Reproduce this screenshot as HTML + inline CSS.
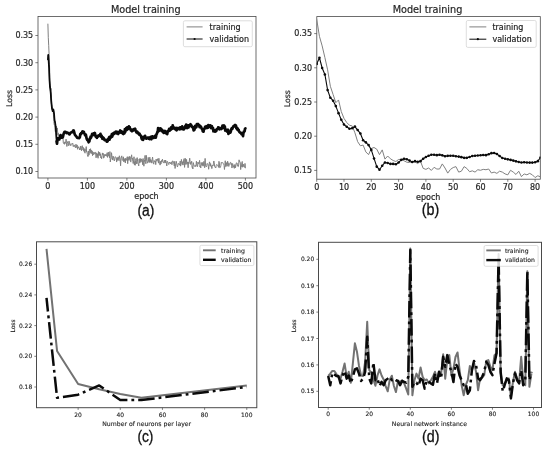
<!DOCTYPE html>
<html lang="en"><head><meta charset="utf-8"><title>Model training figure</title>
<style>html,body{margin:0;padding:0;background:#fff;}svg{display:block;filter:blur(0.3px);}</style></head>
<body>
<svg width="550" height="449" viewBox="0 0 550 449">
<rect width="550" height="449" fill="#fff"/>
<rect x="38.00" y="16.50" width="218.00" height="161.50" fill="#fff" stroke="#4a4a4a" stroke-width="0.8"/>
<clipPath id="ca"><rect x="38.0" y="16.5" width="218.0" height="161.5"/></clipPath>
<g clip-path="url(#ca)" fill="none" stroke-linejoin="round" stroke-linecap="round">
<path d="M47.90,24.08 L48.30,37.68 L48.69,45.29 L49.09,54.54 L49.48,64.33 L49.88,77.39 L50.27,83.92 L50.66,90.44 L51.06,88.27 L51.45,97.52 L51.85,102.96 L52.24,106.22 L52.64,108.40 L53.03,108.94 L53.43,114.38 L53.83,121.45 L54.22,124.72 L54.61,124.17 L55.01,129.61 L55.41,131.79 L55.80,126.89 L56.20,126.08 L56.59,127.44 L56.98,131.79 L57.38,127.98 L57.77,135.32 L58.17,132.88 L58.56,135.05 L58.96,136.41 L59.35,137.23 L59.75,135.60 L60.14,135.60 L60.54,136.68 L60.94,137.77 L61.33,138.04 L61.73,137.50 L62.12,137.50 L62.52,138.86 L62.91,136.96 L63.30,142.67 L63.70,143.48 L64.09,142.40 L64.49,144.30 L64.88,141.85 L65.28,143.21 L65.67,143.21 L66.07,139.13 L66.47,142.40 L66.86,146.48 L67.25,143.48 L67.65,142.02 L68.05,141.30 L68.44,145.65 L68.84,144.92 L69.23,141.30 L69.62,142.75 L70.02,145.36 L70.41,144.63 L70.81,145.65 L71.20,143.76 L71.60,144.20 L72.00,143.47 L72.39,143.76 L72.78,143.18 L73.18,146.37 L73.58,145.65 L73.97,146.66 L74.36,144.92 L74.76,145.65 L75.16,147.10 L75.55,147.83 L75.94,144.20 L76.34,145.65 L76.73,147.54 L77.13,144.92 L77.53,149.28 L77.92,147.10 L78.31,147.83 L78.71,146.66 L79.11,147.83 L79.50,150.00 L79.89,148.55 L80.29,149.57 L80.69,145.98 L81.08,148.49 L81.47,150.75 L81.87,146.68 L82.27,145.66 L82.66,148.44 L83.06,150.08 L83.45,147.53 L83.84,151.25 L84.24,148.62 L84.63,152.40 L85.03,153.19 L85.42,149.58 L85.82,150.30 L86.22,146.62 L86.61,152.13 L87.00,151.54 L87.40,154.55 L87.80,156.49 L88.19,156.42 L88.59,151.04 L88.98,155.17 L89.38,149.65 L89.77,149.05 L90.16,153.35 L90.56,148.71 L90.95,152.33 L91.35,150.25 L91.75,153.68 L92.14,150.89 L92.53,155.67 L92.93,151.95 L93.33,154.72 L93.72,154.04 L94.12,152.29 L94.51,153.53 L94.91,154.25 L95.30,152.41 L95.69,152.34 L96.09,157.82 L96.48,153.18 L96.88,153.02 L97.28,156.62 L97.67,153.96 L98.06,158.25 L98.46,151.52 L98.86,155.67 L99.25,155.32 L99.65,152.23 L100.04,155.55 L100.44,153.78 L100.83,157.85 L101.22,156.72 L101.62,158.77 L102.02,155.91 L102.41,152.92 L102.81,154.93 L103.20,153.36 L103.59,158.07 L103.99,157.76 L104.38,156.78 L104.78,154.28 L105.18,154.84 L105.57,155.79 L105.97,154.27 L106.36,156.21 L106.75,155.93 L107.15,152.72 L107.55,157.39 L107.94,155.55 L108.34,152.12 L108.73,155.90 L109.12,154.50 L109.52,157.79 L109.91,151.59 L110.31,161.97 L110.70,159.32 L111.10,159.20 L111.50,152.73 L111.89,155.92 L112.28,157.50 L112.68,160.07 L113.07,156.12 L113.47,156.81 L113.87,158.87 L114.26,160.90 L114.66,160.03 L115.05,156.89 L115.44,156.73 L115.84,157.39 L116.24,158.02 L116.63,162.06 L117.03,157.69 L117.42,160.41 L117.81,157.86 L118.21,156.90 L118.60,159.75 L119.00,160.66 L119.40,155.79 L119.79,157.43 L120.19,159.91 L120.58,165.76 L120.97,158.60 L121.37,157.00 L121.77,155.86 L122.16,160.32 L122.56,160.30 L122.95,159.88 L123.34,156.80 L123.74,161.79 L124.13,159.26 L124.53,161.31 L124.93,158.45 L125.32,162.98 L125.72,158.31 L126.11,160.51 L126.50,159.91 L126.90,158.14 L127.30,156.69 L127.69,163.70 L128.09,157.16 L128.48,158.30 L128.88,160.44 L129.27,156.34 L129.66,159.37 L130.06,156.72 L130.46,161.39 L130.85,162.12 L131.25,157.06 L131.64,154.81 L132.03,158.61 L132.43,158.04 L132.82,161.44 L133.22,163.57 L133.62,160.94 L134.01,156.77 L134.41,165.05 L134.80,161.76 L135.19,165.29 L135.59,160.40 L135.99,158.58 L136.38,163.82 L136.78,161.83 L137.17,157.64 L137.56,161.16 L137.96,164.03 L138.35,164.20 L138.75,165.89 L139.15,159.04 L139.54,162.73 L139.94,158.31 L140.33,158.73 L140.72,162.45 L141.12,162.10 L141.52,158.88 L141.91,160.39 L142.31,160.08 L142.70,164.74 L143.09,158.49 L143.49,162.81 L143.88,166.20 L144.28,162.13 L144.68,159.56 L145.07,155.43 L145.47,161.46 L145.86,163.77 L146.25,155.30 L146.65,160.08 L147.05,161.09 L147.44,163.06 L147.84,162.96 L148.23,157.38 L148.62,161.66 L149.02,162.32 L149.41,162.25 L149.81,157.16 L150.21,162.44 L150.60,159.46 L151.00,160.35 L151.39,160.41 L151.78,163.15 L152.18,159.39 L152.58,157.06 L152.97,161.13 L153.37,163.25 L153.76,164.16 L154.16,160.53 L154.55,161.67 L154.94,161.26 L155.34,160.97 L155.74,164.61 L156.13,159.09 L156.53,160.43 L156.92,161.18 L157.31,160.43 L157.71,158.73 L158.10,160.88 L158.50,163.15 L158.90,158.27 L159.29,162.24 L159.69,163.01 L160.08,165.11 L160.47,161.33 L160.87,163.97 L161.27,162.73 L161.66,160.41 L162.06,161.49 L162.45,159.14 L162.84,160.93 L163.24,162.72 L163.63,162.60 L164.03,163.09 L164.43,160.32 L164.82,161.90 L165.22,163.02 L165.61,160.00 L166.00,161.88 L166.40,163.32 L166.80,165.93 L167.19,161.22 L167.59,161.76 L167.98,162.27 L168.38,163.51 L168.77,164.53 L169.16,163.09 L169.56,162.02 L169.96,162.95 L170.35,163.04 L170.75,163.88 L171.14,161.95 L171.53,162.25 L171.93,164.71 L172.33,161.06 L172.72,161.03 L173.12,161.02 L173.51,163.38 L173.91,163.58 L174.30,165.99 L174.69,161.36 L175.09,168.48 L175.49,164.26 L175.88,164.18 L176.28,161.30 L176.67,163.44 L177.06,165.85 L177.46,167.03 L177.86,165.37 L178.25,163.32 L178.65,163.43 L179.04,164.02 L179.44,165.19 L179.83,164.00 L180.23,161.02 L180.62,166.14 L181.02,163.34 L181.41,159.43 L181.81,162.01 L182.20,164.46 L182.59,161.71 L182.99,165.14 L183.39,163.26 L183.78,159.45 L184.18,158.59 L184.57,167.39 L184.97,161.47 L185.36,158.39 L185.76,164.47 L186.15,162.48 L186.55,159.40 L186.94,164.27 L187.34,161.93 L187.73,163.16 L188.12,167.74 L188.52,162.26 L188.92,163.63 L189.31,160.99 L189.71,158.22 L190.10,161.75 L190.50,164.40 L190.89,162.48 L191.29,163.16 L191.68,161.23 L192.08,167.34 L192.47,166.75 L192.87,168.98 L193.26,162.57 L193.66,164.18 L194.05,165.78 L194.45,166.06 L194.84,165.77 L195.24,166.72 L195.63,165.31 L196.03,165.81 L196.42,161.28 L196.82,163.97 L197.21,166.85 L197.61,166.35 L198.00,162.06 L198.40,163.71 L198.79,163.91 L199.19,162.68 L199.58,160.38 L199.98,167.06 L200.37,165.72 L200.77,167.97 L201.16,162.43 L201.56,164.69 L201.95,165.52 L202.34,165.85 L202.74,162.40 L203.14,164.56 L203.53,165.62 L203.93,161.36 L204.32,167.11 L204.72,167.76 L205.11,158.42 L205.51,165.79 L205.90,166.33 L206.30,166.89 L206.69,165.56 L207.09,163.42 L207.48,163.61 L207.88,164.23 L208.27,166.28 L208.67,169.25 L209.06,164.91 L209.46,161.88 L209.85,162.98 L210.25,166.01 L210.64,163.64 L211.04,166.54 L211.43,165.74 L211.83,168.62 L212.22,166.37 L212.62,165.26 L213.01,166.01 L213.41,163.72 L213.80,160.99 L214.20,162.36 L214.59,166.35 L214.99,167.39 L215.38,167.20 L215.78,167.99 L216.17,165.52 L216.57,164.57 L216.96,165.15 L217.36,165.13 L217.75,165.21 L218.15,165.91 L218.54,167.38 L218.94,161.32 L219.33,162.96 L219.73,167.72 L220.12,167.69 L220.52,166.88 L220.91,165.34 L221.31,162.32 L221.70,162.89 L222.10,162.74 L222.49,162.67 L222.89,162.60 L223.28,163.48 L223.68,164.15 L224.07,165.53 L224.47,169.48 L224.86,165.50 L225.26,160.75 L225.65,166.46 L226.05,166.65 L226.44,162.60 L226.84,164.87 L227.23,166.22 L227.62,161.21 L228.02,163.47 L228.42,163.17 L228.81,166.43 L229.21,163.86 L229.60,164.17 L230.00,163.22 L230.39,162.33 L230.79,162.41 L231.18,164.77 L231.58,163.53 L231.97,168.04 L232.37,163.69 L232.76,163.61 L233.16,166.26 L233.55,167.23 L233.95,165.50 L234.34,168.35 L234.74,164.57 L235.13,164.71 L235.53,167.77 L235.92,165.36 L236.32,162.89 L236.71,162.92 L237.11,163.07 L237.50,165.94 L237.90,166.42 L238.29,166.56 L238.69,164.15 L239.08,159.84 L239.48,162.16 L239.87,161.72 L240.27,162.30 L240.66,169.55 L241.06,166.09 L241.45,166.66 L241.85,162.54 L242.24,161.47 L242.64,167.23 L243.03,165.51 L243.43,164.24 L243.82,166.80 L244.22,167.14 L244.61,167.26 L245.01,163.43 L245.40,167.83" stroke="#808080" stroke-width="1.0"/>
<path d="M47.90,59.65 L48.30,54.70 L48.69,62.86 L49.09,67.98 L49.48,80.43 L49.88,86.47 L50.27,88.87 L50.66,93.16 L51.06,98.77 L51.45,104.04 L51.85,107.85 L52.24,109.59 L52.64,111.22 L53.03,110.74 L53.43,109.43 L53.83,112.20 L54.22,114.92 L54.61,120.36 L55.01,122.00 L55.41,124.17 L55.80,127.98 L56.20,134.78 L56.59,141.31 L56.98,143.76 L57.38,140.60 L57.77,137.99 L58.17,138.42 L58.56,139.13 L58.96,139.13 L59.35,139.40 L59.75,137.99 L60.14,135.92 L60.54,135.05 L60.94,135.49 L61.33,136.52 L61.73,137.66 L62.12,136.96 L62.52,137.39 L62.91,136.96 L63.30,135.05 L63.70,133.64 L64.09,132.60 L64.49,131.90 L64.88,131.90 L65.28,132.17 L65.67,131.90 L66.07,132.33 L66.47,133.03 L66.86,132.74 L67.25,132.60 L67.65,132.60 L68.05,133.03 L68.44,133.32 L68.84,133.76 L69.23,134.34 L69.62,134.34 L70.02,133.61 L70.41,132.89 L70.81,132.60 L71.20,132.45 L71.60,132.31 L72.00,132.02 L72.39,132.16 L72.78,131.44 L73.18,130.57 L73.58,130.42 L73.97,131.29 L74.36,132.89 L74.76,134.48 L75.16,135.06 L75.55,135.50 L75.94,135.93 L76.34,136.51 L76.73,137.09 L77.13,137.67 L77.53,137.96 L77.92,137.82 L78.31,137.96 L78.71,138.11 L79.11,138.11 L79.50,137.82 L79.89,136.95 L80.29,134.05 L80.69,134.53 L81.08,133.15 L81.47,133.42 L81.87,133.09 L82.27,131.62 L82.66,131.34 L83.06,132.01 L83.45,132.03 L83.84,131.84 L84.24,132.94 L84.63,133.86 L85.03,135.25 L85.42,135.58 L85.82,134.44 L86.22,136.52 L86.61,138.44 L87.00,139.42 L87.40,140.27 L87.80,139.71 L88.19,140.21 L88.59,142.32 L88.98,141.15 L89.38,141.27 L89.77,138.66 L90.16,138.90 L90.56,136.67 L90.95,137.70 L91.35,136.68 L91.75,135.30 L92.14,133.94 L92.53,133.97 L92.93,135.14 L93.33,133.52 L93.72,133.26 L94.12,133.57 L94.51,134.41 L94.91,132.99 L95.30,135.51 L95.69,136.56 L96.09,135.93 L96.48,137.03 L96.88,137.87 L97.28,137.00 L97.67,136.79 L98.06,136.43 L98.46,135.44 L98.86,135.57 L99.25,135.89 L99.65,135.20 L100.04,134.88 L100.44,133.87 L100.83,135.60 L101.22,136.86 L101.62,135.80 L102.02,137.65 L102.41,138.79 L102.81,137.38 L103.20,138.74 L103.59,137.93 L103.99,139.06 L104.38,139.81 L104.78,140.15 L105.18,139.75 L105.57,139.78 L105.97,140.50 L106.36,140.26 L106.75,141.59 L107.15,140.27 L107.55,141.53 L107.94,139.82 L108.34,138.73 L108.73,138.07 L109.12,137.21 L109.52,139.74 L109.91,137.41 L110.31,136.58 L110.70,136.30 L111.10,137.49 L111.50,135.85 L111.89,134.11 L112.28,136.56 L112.68,134.37 L113.07,133.34 L113.47,134.44 L113.87,132.85 L114.26,133.82 L114.66,133.12 L115.05,132.73 L115.44,131.98 L115.84,132.36 L116.24,131.58 L116.63,133.36 L117.03,132.79 L117.42,131.97 L117.81,132.45 L118.21,134.01 L118.60,132.02 L119.00,132.75 L119.40,131.73 L119.79,131.54 L120.19,130.48 L120.58,131.18 L120.97,132.63 L121.37,132.75 L121.77,131.51 L122.16,132.96 L122.56,132.34 L122.95,133.69 L123.34,134.08 L123.74,131.82 L124.13,132.81 L124.53,133.24 L124.93,129.00 L125.32,131.80 L125.72,128.92 L126.11,128.11 L126.50,128.54 L126.90,129.87 L127.30,127.25 L127.69,129.13 L128.09,128.78 L128.48,127.66 L128.88,126.40 L129.27,127.10 L129.66,127.18 L130.06,128.80 L130.46,129.09 L130.85,130.46 L131.25,130.27 L131.64,130.00 L132.03,131.23 L132.43,130.16 L132.82,130.67 L133.22,130.30 L133.62,129.35 L134.01,129.18 L134.41,128.89 L134.80,129.64 L135.19,128.68 L135.59,130.78 L135.99,131.18 L136.38,132.29 L136.78,131.76 L137.17,131.58 L137.56,133.21 L137.96,133.00 L138.35,132.73 L138.75,133.86 L139.15,134.60 L139.54,133.69 L139.94,134.85 L140.33,135.31 L140.72,135.43 L141.12,136.24 L141.52,138.33 L141.91,139.28 L142.31,138.55 L142.70,138.65 L143.09,139.92 L143.49,136.90 L143.88,137.73 L144.28,136.84 L144.68,138.24 L145.07,135.90 L145.47,137.68 L145.86,137.40 L146.25,138.67 L146.65,137.73 L147.05,137.93 L147.44,138.03 L147.84,137.72 L148.23,138.49 L148.62,137.59 L149.02,138.75 L149.41,139.11 L149.81,138.16 L150.21,137.50 L150.60,136.87 L151.00,137.14 L151.39,139.29 L151.78,137.33 L152.18,136.30 L152.58,137.46 L152.97,137.90 L153.37,137.13 L153.76,137.77 L154.16,136.72 L154.55,137.23 L154.94,135.95 L155.34,136.66 L155.74,137.67 L156.13,135.95 L156.53,134.09 L156.92,133.81 L157.31,132.11 L157.71,132.17 L158.10,128.21 L158.50,129.51 L158.90,130.85 L159.29,130.54 L159.69,129.19 L160.08,128.34 L160.47,129.08 L160.87,128.59 L161.27,130.36 L161.66,131.16 L162.06,129.81 L162.45,130.75 L162.84,131.79 L163.24,130.94 L163.63,132.99 L164.03,132.62 L164.43,131.46 L164.82,130.86 L165.22,132.55 L165.61,131.19 L166.00,133.28 L166.40,132.56 L166.80,133.10 L167.19,134.13 L167.59,132.00 L167.98,130.88 L168.38,131.30 L168.77,130.70 L169.16,128.90 L169.56,130.67 L169.96,130.36 L170.35,129.41 L170.75,129.69 L171.14,127.30 L171.53,128.01 L171.93,128.85 L172.33,128.45 L172.72,125.24 L173.12,128.17 L173.51,128.44 L173.91,127.65 L174.30,127.50 L174.69,128.00 L175.09,129.12 L175.49,129.48 L175.88,128.09 L176.28,128.79 L176.67,130.31 L177.06,127.96 L177.46,128.16 L177.86,128.91 L178.25,128.79 L178.65,128.22 L179.04,128.88 L179.44,129.32 L179.83,127.73 L180.23,129.12 L180.62,127.39 L181.02,128.86 L181.41,127.80 L181.81,127.93 L182.20,126.37 L182.59,128.95 L182.99,129.36 L183.39,128.80 L183.78,129.32 L184.18,128.79 L184.57,127.63 L184.97,127.05 L185.36,126.00 L185.76,127.81 L186.15,124.60 L186.55,124.89 L186.94,126.52 L187.34,128.06 L187.73,125.86 L188.12,125.51 L188.52,127.50 L188.92,125.35 L189.31,125.51 L189.71,125.94 L190.10,124.63 L190.50,124.23 L190.89,125.45 L191.29,125.18 L191.68,126.48 L192.08,127.12 L192.47,126.89 L192.87,127.03 L193.26,128.50 L193.66,130.47 L194.05,128.42 L194.45,129.80 L194.84,127.77 L195.24,125.80 L195.63,126.84 L196.03,127.34 L196.42,127.05 L196.82,124.23 L197.21,124.97 L197.61,124.39 L198.00,123.96 L198.40,124.72 L198.79,124.86 L199.19,125.32 L199.58,127.09 L199.98,126.45 L200.37,125.96 L200.77,126.81 L201.16,127.08 L201.56,128.31 L201.95,128.82 L202.34,129.04 L202.74,131.27 L203.14,131.07 L203.53,131.69 L203.93,128.92 L204.32,129.21 L204.72,128.29 L205.11,126.84 L205.51,126.72 L205.90,127.19 L206.30,126.22 L206.69,128.02 L207.09,126.26 L207.48,126.39 L207.88,127.78 L208.27,125.08 L208.67,126.72 L209.06,125.43 L209.46,126.52 L209.85,125.42 L210.25,125.27 L210.64,127.27 L211.04,128.01 L211.43,126.92 L211.83,126.20 L212.22,127.62 L212.62,128.35 L213.01,127.92 L213.41,131.28 L213.80,129.98 L214.20,131.13 L214.59,130.20 L214.99,131.62 L215.38,131.59 L215.78,130.53 L216.17,131.11 L216.57,129.45 L216.96,129.63 L217.36,128.97 L217.75,128.87 L218.15,127.25 L218.54,128.27 L218.94,127.86 L219.33,128.03 L219.73,129.28 L220.12,128.21 L220.52,128.53 L220.91,128.70 L221.31,129.04 L221.70,128.67 L222.10,127.22 L222.49,125.61 L222.89,127.84 L223.28,126.25 L223.68,126.64 L224.07,125.43 L224.47,126.39 L224.86,126.51 L225.26,130.52 L225.65,129.27 L226.05,130.27 L226.44,130.16 L226.84,131.36 L227.23,131.63 L227.62,130.61 L228.02,129.68 L228.42,133.93 L228.81,131.87 L229.21,131.46 L229.60,131.86 L230.00,132.30 L230.39,132.53 L230.79,131.51 L231.18,129.40 L231.58,128.44 L231.97,128.63 L232.37,128.79 L232.76,127.32 L233.16,127.05 L233.55,125.98 L233.95,125.95 L234.34,126.20 L234.74,125.10 L235.13,126.24 L235.53,125.16 L235.92,125.50 L236.32,128.22 L236.71,127.48 L237.11,129.37 L237.50,128.23 L237.90,129.04 L238.29,130.49 L238.69,129.82 L239.08,131.46 L239.48,132.03 L239.87,132.37 L240.27,132.39 L240.66,132.94 L241.06,132.92 L241.45,133.99 L241.85,133.18 L242.24,133.35 L242.64,135.07 L243.03,136.15 L243.43,133.09 L243.82,131.55 L244.22,131.50 L244.61,131.29 L245.01,128.78 L245.40,128.34" stroke="#0a0a0a" stroke-width="1.0"/>
<path d="M47.90,59.65 L48.30,54.70 L48.69,62.86 L49.09,67.98 L49.48,80.43 L49.88,86.47 L50.27,88.87 L50.66,93.16 L51.06,98.77 L51.45,104.04 L51.85,107.85 L52.24,109.59 L52.64,111.22 L53.03,110.74 L53.43,109.43 L53.83,112.20 L54.22,114.92 L54.61,120.36 L55.01,122.00 L55.41,124.17 L55.80,127.98 L56.20,134.78 L56.59,141.31 L56.98,143.76" stroke="#0a0a0a" stroke-width="1.6"/>
<path d="M56.59,141.31 L56.98,143.76 L57.38,140.60 L57.77,137.99 L58.17,138.42 L58.56,139.13 L58.96,139.13 L59.35,139.40 L59.75,137.99 L60.14,135.92 L60.54,135.05 L60.94,135.49 L61.33,136.52 L61.73,137.66 L62.12,136.96 L62.52,137.39 L62.91,136.96 L63.30,135.05 L63.70,133.64 L64.09,132.60 L64.49,131.90 L64.88,131.90 L65.28,132.17 L65.67,131.90 L66.07,132.33 L66.47,133.03 L66.86,132.74 L67.25,132.60 L67.65,132.60 L68.05,133.03 L68.44,133.32 L68.84,133.76 L69.23,134.34 L69.62,134.34 L70.02,133.61 L70.41,132.89 L70.81,132.60 L71.20,132.45 L71.60,132.31 L72.00,132.02 L72.39,132.16 L72.78,131.44 L73.18,130.57 L73.58,130.42 L73.97,131.29 L74.36,132.89 L74.76,134.48 L75.16,135.06 L75.55,135.50 L75.94,135.93 L76.34,136.51 L76.73,137.09 L77.13,137.67 L77.53,137.96 L77.92,137.82 L78.31,137.96 L78.71,138.11 L79.11,138.11 L79.50,137.82 L79.89,136.95 L80.29,134.05 L80.69,134.53 L81.08,133.15 L81.47,133.42 L81.87,133.09 L82.27,131.62 L82.66,131.34 L83.06,132.01 L83.45,132.03 L83.84,131.84 L84.24,132.94 L84.63,133.86 L85.03,135.25 L85.42,135.58 L85.82,134.44 L86.22,136.52 L86.61,138.44 L87.00,139.42 L87.40,140.27 L87.80,139.71 L88.19,140.21 L88.59,142.32 L88.98,141.15 L89.38,141.27 L89.77,138.66 L90.16,138.90 L90.56,136.67 L90.95,137.70 L91.35,136.68 L91.75,135.30 L92.14,133.94 L92.53,133.97 L92.93,135.14 L93.33,133.52 L93.72,133.26 L94.12,133.57 L94.51,134.41 L94.91,132.99 L95.30,135.51 L95.69,136.56 L96.09,135.93 L96.48,137.03 L96.88,137.87 L97.28,137.00 L97.67,136.79 L98.06,136.43 L98.46,135.44 L98.86,135.57 L99.25,135.89 L99.65,135.20 L100.04,134.88 L100.44,133.87 L100.83,135.60 L101.22,136.86 L101.62,135.80 L102.02,137.65 L102.41,138.79 L102.81,137.38 L103.20,138.74 L103.59,137.93 L103.99,139.06 L104.38,139.81 L104.78,140.15 L105.18,139.75 L105.57,139.78 L105.97,140.50 L106.36,140.26 L106.75,141.59 L107.15,140.27 L107.55,141.53 L107.94,139.82 L108.34,138.73 L108.73,138.07 L109.12,137.21 L109.52,139.74 L109.91,137.41 L110.31,136.58 L110.70,136.30 L111.10,137.49 L111.50,135.85 L111.89,134.11 L112.28,136.56 L112.68,134.37 L113.07,133.34 L113.47,134.44 L113.87,132.85 L114.26,133.82 L114.66,133.12 L115.05,132.73 L115.44,131.98 L115.84,132.36 L116.24,131.58 L116.63,133.36 L117.03,132.79 L117.42,131.97 L117.81,132.45 L118.21,134.01 L118.60,132.02 L119.00,132.75 L119.40,131.73 L119.79,131.54 L120.19,130.48 L120.58,131.18 L120.97,132.63 L121.37,132.75 L121.77,131.51 L122.16,132.96 L122.56,132.34 L122.95,133.69 L123.34,134.08 L123.74,131.82 L124.13,132.81 L124.53,133.24 L124.93,129.00 L125.32,131.80 L125.72,128.92 L126.11,128.11 L126.50,128.54 L126.90,129.87 L127.30,127.25 L127.69,129.13 L128.09,128.78 L128.48,127.66 L128.88,126.40 L129.27,127.10 L129.66,127.18 L130.06,128.80 L130.46,129.09 L130.85,130.46 L131.25,130.27 L131.64,130.00 L132.03,131.23 L132.43,130.16 L132.82,130.67 L133.22,130.30 L133.62,129.35 L134.01,129.18 L134.41,128.89 L134.80,129.64 L135.19,128.68 L135.59,130.78 L135.99,131.18 L136.38,132.29 L136.78,131.76 L137.17,131.58 L137.56,133.21 L137.96,133.00 L138.35,132.73 L138.75,133.86 L139.15,134.60 L139.54,133.69 L139.94,134.85 L140.33,135.31 L140.72,135.43 L141.12,136.24 L141.52,138.33 L141.91,139.28 L142.31,138.55 L142.70,138.65 L143.09,139.92 L143.49,136.90 L143.88,137.73 L144.28,136.84 L144.68,138.24 L145.07,135.90 L145.47,137.68 L145.86,137.40 L146.25,138.67 L146.65,137.73 L147.05,137.93 L147.44,138.03 L147.84,137.72 L148.23,138.49 L148.62,137.59 L149.02,138.75 L149.41,139.11 L149.81,138.16 L150.21,137.50 L150.60,136.87 L151.00,137.14 L151.39,139.29 L151.78,137.33 L152.18,136.30 L152.58,137.46 L152.97,137.90 L153.37,137.13 L153.76,137.77 L154.16,136.72 L154.55,137.23 L154.94,135.95 L155.34,136.66 L155.74,137.67 L156.13,135.95 L156.53,134.09 L156.92,133.81 L157.31,132.11 L157.71,132.17 L158.10,128.21 L158.50,129.51 L158.90,130.85 L159.29,130.54 L159.69,129.19 L160.08,128.34 L160.47,129.08 L160.87,128.59 L161.27,130.36 L161.66,131.16 L162.06,129.81 L162.45,130.75 L162.84,131.79 L163.24,130.94 L163.63,132.99 L164.03,132.62 L164.43,131.46 L164.82,130.86 L165.22,132.55 L165.61,131.19 L166.00,133.28 L166.40,132.56 L166.80,133.10 L167.19,134.13 L167.59,132.00 L167.98,130.88 L168.38,131.30 L168.77,130.70 L169.16,128.90 L169.56,130.67 L169.96,130.36 L170.35,129.41 L170.75,129.69 L171.14,127.30 L171.53,128.01 L171.93,128.85 L172.33,128.45 L172.72,125.24 L173.12,128.17 L173.51,128.44 L173.91,127.65 L174.30,127.50 L174.69,128.00 L175.09,129.12 L175.49,129.48 L175.88,128.09 L176.28,128.79 L176.67,130.31 L177.06,127.96 L177.46,128.16 L177.86,128.91 L178.25,128.79 L178.65,128.22 L179.04,128.88 L179.44,129.32 L179.83,127.73 L180.23,129.12 L180.62,127.39 L181.02,128.86 L181.41,127.80 L181.81,127.93 L182.20,126.37 L182.59,128.95 L182.99,129.36 L183.39,128.80 L183.78,129.32 L184.18,128.79 L184.57,127.63 L184.97,127.05 L185.36,126.00 L185.76,127.81 L186.15,124.60 L186.55,124.89 L186.94,126.52 L187.34,128.06 L187.73,125.86 L188.12,125.51 L188.52,127.50 L188.92,125.35 L189.31,125.51 L189.71,125.94 L190.10,124.63 L190.50,124.23 L190.89,125.45 L191.29,125.18 L191.68,126.48 L192.08,127.12 L192.47,126.89 L192.87,127.03 L193.26,128.50 L193.66,130.47 L194.05,128.42 L194.45,129.80 L194.84,127.77 L195.24,125.80 L195.63,126.84 L196.03,127.34 L196.42,127.05 L196.82,124.23 L197.21,124.97 L197.61,124.39 L198.00,123.96 L198.40,124.72 L198.79,124.86 L199.19,125.32 L199.58,127.09 L199.98,126.45 L200.37,125.96 L200.77,126.81 L201.16,127.08 L201.56,128.31 L201.95,128.82 L202.34,129.04 L202.74,131.27 L203.14,131.07 L203.53,131.69 L203.93,128.92 L204.32,129.21 L204.72,128.29 L205.11,126.84 L205.51,126.72 L205.90,127.19 L206.30,126.22 L206.69,128.02 L207.09,126.26 L207.48,126.39 L207.88,127.78 L208.27,125.08 L208.67,126.72 L209.06,125.43 L209.46,126.52 L209.85,125.42 L210.25,125.27 L210.64,127.27 L211.04,128.01 L211.43,126.92 L211.83,126.20 L212.22,127.62 L212.62,128.35 L213.01,127.92 L213.41,131.28 L213.80,129.98 L214.20,131.13 L214.59,130.20 L214.99,131.62 L215.38,131.59 L215.78,130.53 L216.17,131.11 L216.57,129.45 L216.96,129.63 L217.36,128.97 L217.75,128.87 L218.15,127.25 L218.54,128.27 L218.94,127.86 L219.33,128.03 L219.73,129.28 L220.12,128.21 L220.52,128.53 L220.91,128.70 L221.31,129.04 L221.70,128.67 L222.10,127.22 L222.49,125.61 L222.89,127.84 L223.28,126.25 L223.68,126.64 L224.07,125.43 L224.47,126.39 L224.86,126.51 L225.26,130.52 L225.65,129.27 L226.05,130.27 L226.44,130.16 L226.84,131.36 L227.23,131.63 L227.62,130.61 L228.02,129.68 L228.42,133.93 L228.81,131.87 L229.21,131.46 L229.60,131.86 L230.00,132.30 L230.39,132.53 L230.79,131.51 L231.18,129.40 L231.58,128.44 L231.97,128.63 L232.37,128.79 L232.76,127.32 L233.16,127.05 L233.55,125.98 L233.95,125.95 L234.34,126.20 L234.74,125.10 L235.13,126.24 L235.53,125.16 L235.92,125.50 L236.32,128.22 L236.71,127.48 L237.11,129.37 L237.50,128.23 L237.90,129.04 L238.29,130.49 L238.69,129.82 L239.08,131.46 L239.48,132.03 L239.87,132.37 L240.27,132.39 L240.66,132.94 L241.06,132.92 L241.45,133.99 L241.85,133.18 L242.24,133.35 L242.64,135.07 L243.03,136.15 L243.43,133.09 L243.82,131.55 L244.22,131.50 L244.61,131.29 L245.01,128.78 L245.40,128.34" stroke="#0a0a0a" stroke-width="2.7"/>
</g>
<line x1="47.90" y1="178.00" x2="47.90" y2="180.60" stroke="#4a4a4a" stroke-width="0.7"/>
<text x="47.90" y="188.80" font-size="8" text-anchor="middle" fill="#262626" stroke="#262626" stroke-width="0.2" font-family="'DejaVu Sans','Liberation Sans',sans-serif">0</text>
<line x1="87.40" y1="178.00" x2="87.40" y2="180.60" stroke="#4a4a4a" stroke-width="0.7"/>
<text x="87.40" y="188.80" font-size="8" text-anchor="middle" fill="#262626" stroke="#262626" stroke-width="0.2" font-family="'DejaVu Sans','Liberation Sans',sans-serif">100</text>
<line x1="126.90" y1="178.00" x2="126.90" y2="180.60" stroke="#4a4a4a" stroke-width="0.7"/>
<text x="126.90" y="188.80" font-size="8" text-anchor="middle" fill="#262626" stroke="#262626" stroke-width="0.2" font-family="'DejaVu Sans','Liberation Sans',sans-serif">200</text>
<line x1="166.40" y1="178.00" x2="166.40" y2="180.60" stroke="#4a4a4a" stroke-width="0.7"/>
<text x="166.40" y="188.80" font-size="8" text-anchor="middle" fill="#262626" stroke="#262626" stroke-width="0.2" font-family="'DejaVu Sans','Liberation Sans',sans-serif">300</text>
<line x1="205.90" y1="178.00" x2="205.90" y2="180.60" stroke="#4a4a4a" stroke-width="0.7"/>
<text x="205.90" y="188.80" font-size="8" text-anchor="middle" fill="#262626" stroke="#262626" stroke-width="0.2" font-family="'DejaVu Sans','Liberation Sans',sans-serif">400</text>
<line x1="245.40" y1="178.00" x2="245.40" y2="180.60" stroke="#4a4a4a" stroke-width="0.7"/>
<text x="245.40" y="188.80" font-size="8" text-anchor="middle" fill="#262626" stroke="#262626" stroke-width="0.2" font-family="'DejaVu Sans','Liberation Sans',sans-serif">500</text>
<line x1="35.40" y1="171.50" x2="38.00" y2="171.50" stroke="#4a4a4a" stroke-width="0.7"/>
<text x="33.20" y="174.38" font-size="8" text-anchor="end" fill="#262626" stroke="#262626" stroke-width="0.2" font-family="'DejaVu Sans','Liberation Sans',sans-serif">0.10</text>
<line x1="35.40" y1="144.30" x2="38.00" y2="144.30" stroke="#4a4a4a" stroke-width="0.7"/>
<text x="33.20" y="147.18" font-size="8" text-anchor="end" fill="#262626" stroke="#262626" stroke-width="0.2" font-family="'DejaVu Sans','Liberation Sans',sans-serif">0.15</text>
<line x1="35.40" y1="117.10" x2="38.00" y2="117.10" stroke="#4a4a4a" stroke-width="0.7"/>
<text x="33.20" y="119.98" font-size="8" text-anchor="end" fill="#262626" stroke="#262626" stroke-width="0.2" font-family="'DejaVu Sans','Liberation Sans',sans-serif">0.20</text>
<line x1="35.40" y1="89.90" x2="38.00" y2="89.90" stroke="#4a4a4a" stroke-width="0.7"/>
<text x="33.20" y="92.78" font-size="8" text-anchor="end" fill="#262626" stroke="#262626" stroke-width="0.2" font-family="'DejaVu Sans','Liberation Sans',sans-serif">0.25</text>
<line x1="35.40" y1="62.70" x2="38.00" y2="62.70" stroke="#4a4a4a" stroke-width="0.7"/>
<text x="33.20" y="65.58" font-size="8" text-anchor="end" fill="#262626" stroke="#262626" stroke-width="0.2" font-family="'DejaVu Sans','Liberation Sans',sans-serif">0.30</text>
<line x1="35.40" y1="35.50" x2="38.00" y2="35.50" stroke="#4a4a4a" stroke-width="0.7"/>
<text x="33.20" y="38.38" font-size="8" text-anchor="end" fill="#262626" stroke="#262626" stroke-width="0.2" font-family="'DejaVu Sans','Liberation Sans',sans-serif">0.35</text>
<text x="145.80" y="12.80" font-size="9.7" text-anchor="middle" fill="#262626" stroke="#262626" stroke-width="0.2" font-family="'DejaVu Sans','Liberation Sans',sans-serif">Model training</text>
<text x="146.50" y="199.30" font-size="8" text-anchor="middle" fill="#262626" stroke="#262626" stroke-width="0.2" font-family="'DejaVu Sans','Liberation Sans',sans-serif">epoch</text>
<text x="11.90" y="98.50" font-size="7.8" text-anchor="middle" fill="#262626" stroke="#262626" stroke-width="0.2" font-family="'DejaVu Sans','Liberation Sans',sans-serif" transform="rotate(-90 11.90 98.50)">Loss</text>
<rect x="183.40" y="20.80" width="68.90" height="25.90" rx="1.5" fill="#fff" fill-opacity="0.8" stroke="#d0d0d0" stroke-width="0.7"/>
<line x1="186.6" y1="26.9" x2="202.6" y2="26.9" stroke="#808080" stroke-width="1.0"/>
<text x="209.60" y="29.94" font-size="8" text-anchor="start" fill="#262626" stroke="#262626" stroke-width="0.2" font-family="'DejaVu Sans','Liberation Sans',sans-serif">training</text>
<line x1="186.6" y1="39.0" x2="202.6" y2="39.0" stroke="#0a0a0a" stroke-width="1.0"/>
<circle cx="194.6" cy="39.0" r="1.1" fill="#0a0a0a"/>
<text x="209.60" y="42.04" font-size="8" text-anchor="start" fill="#262626" stroke="#262626" stroke-width="0.2" font-family="'DejaVu Sans','Liberation Sans',sans-serif">validation</text>
<text x="137.45" y="215.50" font-size="15.6" textLength="16.90" lengthAdjust="spacingAndGlyphs" fill="#111" stroke="#111" stroke-width="0.3" font-family="'Liberation Sans',sans-serif">(a)</text>
<rect x="316.80" y="16.60" width="223.50" height="162.60" fill="#fff" stroke="#4a4a4a" stroke-width="0.8"/>
<clipPath id="cb"><rect x="316.8" y="16.6" width="223.49999999999994" height="162.6"/></clipPath>
<g clip-path="url(#cb)" fill="none" stroke-linejoin="round" stroke-linecap="round">
<path d="M316.70,19.24 L319.43,36.34 L322.16,45.91 L324.89,57.54 L327.62,69.85 L330.35,86.27 L333.08,94.48 L335.81,102.68 L338.54,99.95 L341.27,111.58 L344.00,118.42 L346.73,122.52 L349.46,125.26 L352.19,125.94 L354.92,132.78 L357.65,141.67 L360.38,145.78 L363.11,145.09 L365.84,151.93 L368.57,154.67 L371.30,148.51 L374.03,147.49 L376.76,149.20 L379.49,154.67 L382.22,149.88 L384.95,159.11 L387.68,156.04 L390.41,158.77 L393.14,160.48 L395.87,161.51 L398.60,159.46 L401.33,159.46 L404.06,160.82 L406.79,162.19 L409.52,162.53 L412.25,161.85 L414.98,161.85 L417.71,163.56 L420.44,161.17 L423.17,168.35 L425.90,169.37 L428.63,168.01 L431.36,170.40 L434.09,167.32 L436.82,169.03 L439.55,169.03 L442.28,163.90 L445.01,168.01 L447.74,173.14 L450.47,169.37 L453.20,167.54 L455.93,166.63 L458.66,172.10 L461.39,171.19 L464.12,166.63 L466.85,168.45 L469.58,171.73 L472.31,170.82 L475.04,172.10 L477.77,169.73 L480.50,170.27 L483.23,169.36 L485.96,169.73 L488.69,169.00 L491.42,173.01 L494.15,172.10 L496.88,173.37 L499.61,171.19 L502.34,172.10 L505.07,173.92 L507.80,174.83 L510.53,170.27 L513.26,172.10 L515.99,174.47 L518.72,171.19 L521.45,176.66 L524.18,173.92 L526.91,174.83 L529.64,173.37 L532.37,174.83 L535.10,177.57 L537.83,175.74 L540.56,177.02" stroke="#808080" stroke-width="1.0"/>
<path d="M316.70,63.97 L319.43,57.75 L322.16,68.01 L324.89,74.43 L327.62,90.10 L330.35,97.69 L333.08,100.70 L335.81,106.10 L338.54,113.15 L341.27,119.78 L344.00,124.57 L346.73,126.76 L349.46,128.81 L352.19,128.20 L354.92,126.56 L357.65,130.04 L360.38,133.46 L363.11,140.30 L365.84,142.36 L368.57,145.09 L371.30,149.88 L374.03,158.43 L376.76,166.64 L379.49,169.72 L382.22,165.75 L384.95,162.47 L387.68,163.01 L390.41,163.90 L393.14,163.90 L395.87,164.24 L398.60,162.47 L401.33,159.87 L404.06,158.77 L406.79,159.32 L409.52,160.62 L412.25,162.06 L414.98,161.17 L417.71,161.71 L420.44,161.17 L423.17,158.77 L425.90,156.99 L428.63,155.69 L431.36,154.80 L434.09,154.80 L436.82,155.15 L439.55,154.80 L442.28,155.35 L445.01,156.23 L447.74,155.87 L450.47,155.69 L453.20,155.69 L455.93,156.23 L458.66,156.60 L461.39,157.14 L464.12,157.87 L466.85,157.87 L469.58,156.96 L472.31,156.05 L475.04,155.69 L477.77,155.50 L480.50,155.32 L483.23,154.96 L485.96,155.14 L488.69,154.23 L491.42,153.13 L494.15,152.95 L496.88,154.04 L499.61,156.05 L502.34,158.06 L505.07,158.79 L507.80,159.33 L510.53,159.88 L513.26,160.61 L515.99,161.34 L518.72,162.07 L521.45,162.43 L524.18,162.25 L526.91,162.43 L529.64,162.61 L532.37,162.61 L535.10,162.25 L537.83,161.16 L540.56,157.51" stroke="#0a0a0a" stroke-width="1.1"/>
<circle cx="316.70" cy="63.97" r="1.3" fill="#0a0a0a" stroke="none"/>
<circle cx="319.43" cy="57.75" r="1.3" fill="#0a0a0a" stroke="none"/>
<circle cx="322.16" cy="68.01" r="1.3" fill="#0a0a0a" stroke="none"/>
<circle cx="324.89" cy="74.43" r="1.3" fill="#0a0a0a" stroke="none"/>
<circle cx="327.62" cy="90.10" r="1.3" fill="#0a0a0a" stroke="none"/>
<circle cx="330.35" cy="97.69" r="1.3" fill="#0a0a0a" stroke="none"/>
<circle cx="333.08" cy="100.70" r="1.3" fill="#0a0a0a" stroke="none"/>
<circle cx="335.81" cy="106.10" r="1.3" fill="#0a0a0a" stroke="none"/>
<circle cx="338.54" cy="113.15" r="1.3" fill="#0a0a0a" stroke="none"/>
<circle cx="341.27" cy="119.78" r="1.3" fill="#0a0a0a" stroke="none"/>
<circle cx="344.00" cy="124.57" r="1.3" fill="#0a0a0a" stroke="none"/>
<circle cx="346.73" cy="126.76" r="1.3" fill="#0a0a0a" stroke="none"/>
<circle cx="349.46" cy="128.81" r="1.3" fill="#0a0a0a" stroke="none"/>
<circle cx="352.19" cy="128.20" r="1.3" fill="#0a0a0a" stroke="none"/>
<circle cx="354.92" cy="126.56" r="1.3" fill="#0a0a0a" stroke="none"/>
<circle cx="357.65" cy="130.04" r="1.3" fill="#0a0a0a" stroke="none"/>
<circle cx="360.38" cy="133.46" r="1.3" fill="#0a0a0a" stroke="none"/>
<circle cx="363.11" cy="140.30" r="1.3" fill="#0a0a0a" stroke="none"/>
<circle cx="365.84" cy="142.36" r="1.3" fill="#0a0a0a" stroke="none"/>
<circle cx="368.57" cy="145.09" r="1.3" fill="#0a0a0a" stroke="none"/>
<circle cx="371.30" cy="149.88" r="1.3" fill="#0a0a0a" stroke="none"/>
<circle cx="374.03" cy="158.43" r="1.3" fill="#0a0a0a" stroke="none"/>
<circle cx="376.76" cy="166.64" r="1.3" fill="#0a0a0a" stroke="none"/>
<circle cx="379.49" cy="169.72" r="1.3" fill="#0a0a0a" stroke="none"/>
<circle cx="382.22" cy="165.75" r="1.3" fill="#0a0a0a" stroke="none"/>
<circle cx="384.95" cy="162.47" r="1.3" fill="#0a0a0a" stroke="none"/>
<circle cx="387.68" cy="163.01" r="1.3" fill="#0a0a0a" stroke="none"/>
<circle cx="390.41" cy="163.90" r="1.3" fill="#0a0a0a" stroke="none"/>
<circle cx="393.14" cy="163.90" r="1.3" fill="#0a0a0a" stroke="none"/>
<circle cx="395.87" cy="164.24" r="1.3" fill="#0a0a0a" stroke="none"/>
<circle cx="398.60" cy="162.47" r="1.3" fill="#0a0a0a" stroke="none"/>
<circle cx="401.33" cy="159.87" r="1.3" fill="#0a0a0a" stroke="none"/>
<circle cx="404.06" cy="158.77" r="1.3" fill="#0a0a0a" stroke="none"/>
<circle cx="406.79" cy="159.32" r="1.3" fill="#0a0a0a" stroke="none"/>
<circle cx="409.52" cy="160.62" r="1.3" fill="#0a0a0a" stroke="none"/>
<circle cx="412.25" cy="162.06" r="1.3" fill="#0a0a0a" stroke="none"/>
<circle cx="414.98" cy="161.17" r="1.3" fill="#0a0a0a" stroke="none"/>
<circle cx="417.71" cy="161.71" r="1.3" fill="#0a0a0a" stroke="none"/>
<circle cx="420.44" cy="161.17" r="1.3" fill="#0a0a0a" stroke="none"/>
<circle cx="423.17" cy="158.77" r="1.3" fill="#0a0a0a" stroke="none"/>
<circle cx="425.90" cy="156.99" r="1.3" fill="#0a0a0a" stroke="none"/>
<circle cx="428.63" cy="155.69" r="1.3" fill="#0a0a0a" stroke="none"/>
<circle cx="431.36" cy="154.80" r="1.3" fill="#0a0a0a" stroke="none"/>
<circle cx="434.09" cy="154.80" r="1.3" fill="#0a0a0a" stroke="none"/>
<circle cx="436.82" cy="155.15" r="1.3" fill="#0a0a0a" stroke="none"/>
<circle cx="439.55" cy="154.80" r="1.3" fill="#0a0a0a" stroke="none"/>
<circle cx="442.28" cy="155.35" r="1.3" fill="#0a0a0a" stroke="none"/>
<circle cx="445.01" cy="156.23" r="1.3" fill="#0a0a0a" stroke="none"/>
<circle cx="447.74" cy="155.87" r="1.3" fill="#0a0a0a" stroke="none"/>
<circle cx="450.47" cy="155.69" r="1.3" fill="#0a0a0a" stroke="none"/>
<circle cx="453.20" cy="155.69" r="1.3" fill="#0a0a0a" stroke="none"/>
<circle cx="455.93" cy="156.23" r="1.3" fill="#0a0a0a" stroke="none"/>
<circle cx="458.66" cy="156.60" r="1.3" fill="#0a0a0a" stroke="none"/>
<circle cx="461.39" cy="157.14" r="1.3" fill="#0a0a0a" stroke="none"/>
<circle cx="464.12" cy="157.87" r="1.3" fill="#0a0a0a" stroke="none"/>
<circle cx="466.85" cy="157.87" r="1.3" fill="#0a0a0a" stroke="none"/>
<circle cx="469.58" cy="156.96" r="1.3" fill="#0a0a0a" stroke="none"/>
<circle cx="472.31" cy="156.05" r="1.3" fill="#0a0a0a" stroke="none"/>
<circle cx="475.04" cy="155.69" r="1.3" fill="#0a0a0a" stroke="none"/>
<circle cx="477.77" cy="155.50" r="1.3" fill="#0a0a0a" stroke="none"/>
<circle cx="480.50" cy="155.32" r="1.3" fill="#0a0a0a" stroke="none"/>
<circle cx="483.23" cy="154.96" r="1.3" fill="#0a0a0a" stroke="none"/>
<circle cx="485.96" cy="155.14" r="1.3" fill="#0a0a0a" stroke="none"/>
<circle cx="488.69" cy="154.23" r="1.3" fill="#0a0a0a" stroke="none"/>
<circle cx="491.42" cy="153.13" r="1.3" fill="#0a0a0a" stroke="none"/>
<circle cx="494.15" cy="152.95" r="1.3" fill="#0a0a0a" stroke="none"/>
<circle cx="496.88" cy="154.04" r="1.3" fill="#0a0a0a" stroke="none"/>
<circle cx="499.61" cy="156.05" r="1.3" fill="#0a0a0a" stroke="none"/>
<circle cx="502.34" cy="158.06" r="1.3" fill="#0a0a0a" stroke="none"/>
<circle cx="505.07" cy="158.79" r="1.3" fill="#0a0a0a" stroke="none"/>
<circle cx="507.80" cy="159.33" r="1.3" fill="#0a0a0a" stroke="none"/>
<circle cx="510.53" cy="159.88" r="1.3" fill="#0a0a0a" stroke="none"/>
<circle cx="513.26" cy="160.61" r="1.3" fill="#0a0a0a" stroke="none"/>
<circle cx="515.99" cy="161.34" r="1.3" fill="#0a0a0a" stroke="none"/>
<circle cx="518.72" cy="162.07" r="1.3" fill="#0a0a0a" stroke="none"/>
<circle cx="521.45" cy="162.43" r="1.3" fill="#0a0a0a" stroke="none"/>
<circle cx="524.18" cy="162.25" r="1.3" fill="#0a0a0a" stroke="none"/>
<circle cx="526.91" cy="162.43" r="1.3" fill="#0a0a0a" stroke="none"/>
<circle cx="529.64" cy="162.61" r="1.3" fill="#0a0a0a" stroke="none"/>
<circle cx="532.37" cy="162.61" r="1.3" fill="#0a0a0a" stroke="none"/>
<circle cx="535.10" cy="162.25" r="1.3" fill="#0a0a0a" stroke="none"/>
<circle cx="537.83" cy="161.16" r="1.3" fill="#0a0a0a" stroke="none"/>
<circle cx="540.56" cy="157.51" r="1.3" fill="#0a0a0a" stroke="none"/>
</g>
<line x1="316.70" y1="179.20" x2="316.70" y2="181.80" stroke="#4a4a4a" stroke-width="0.7"/>
<text x="316.70" y="190.00" font-size="8" text-anchor="middle" fill="#262626" stroke="#262626" stroke-width="0.2" font-family="'DejaVu Sans','Liberation Sans',sans-serif">0</text>
<line x1="344.00" y1="179.20" x2="344.00" y2="181.80" stroke="#4a4a4a" stroke-width="0.7"/>
<text x="344.00" y="190.00" font-size="8" text-anchor="middle" fill="#262626" stroke="#262626" stroke-width="0.2" font-family="'DejaVu Sans','Liberation Sans',sans-serif">10</text>
<line x1="371.30" y1="179.20" x2="371.30" y2="181.80" stroke="#4a4a4a" stroke-width="0.7"/>
<text x="371.30" y="190.00" font-size="8" text-anchor="middle" fill="#262626" stroke="#262626" stroke-width="0.2" font-family="'DejaVu Sans','Liberation Sans',sans-serif">20</text>
<line x1="398.60" y1="179.20" x2="398.60" y2="181.80" stroke="#4a4a4a" stroke-width="0.7"/>
<text x="398.60" y="190.00" font-size="8" text-anchor="middle" fill="#262626" stroke="#262626" stroke-width="0.2" font-family="'DejaVu Sans','Liberation Sans',sans-serif">30</text>
<line x1="425.90" y1="179.20" x2="425.90" y2="181.80" stroke="#4a4a4a" stroke-width="0.7"/>
<text x="425.90" y="190.00" font-size="8" text-anchor="middle" fill="#262626" stroke="#262626" stroke-width="0.2" font-family="'DejaVu Sans','Liberation Sans',sans-serif">40</text>
<line x1="453.20" y1="179.20" x2="453.20" y2="181.80" stroke="#4a4a4a" stroke-width="0.7"/>
<text x="453.20" y="190.00" font-size="8" text-anchor="middle" fill="#262626" stroke="#262626" stroke-width="0.2" font-family="'DejaVu Sans','Liberation Sans',sans-serif">50</text>
<line x1="480.50" y1="179.20" x2="480.50" y2="181.80" stroke="#4a4a4a" stroke-width="0.7"/>
<text x="480.50" y="190.00" font-size="8" text-anchor="middle" fill="#262626" stroke="#262626" stroke-width="0.2" font-family="'DejaVu Sans','Liberation Sans',sans-serif">60</text>
<line x1="507.80" y1="179.20" x2="507.80" y2="181.80" stroke="#4a4a4a" stroke-width="0.7"/>
<text x="507.80" y="190.00" font-size="8" text-anchor="middle" fill="#262626" stroke="#262626" stroke-width="0.2" font-family="'DejaVu Sans','Liberation Sans',sans-serif">70</text>
<line x1="535.10" y1="179.20" x2="535.10" y2="181.80" stroke="#4a4a4a" stroke-width="0.7"/>
<text x="535.10" y="190.00" font-size="8" text-anchor="middle" fill="#262626" stroke="#262626" stroke-width="0.2" font-family="'DejaVu Sans','Liberation Sans',sans-serif">80</text>
<line x1="314.20" y1="170.40" x2="316.80" y2="170.40" stroke="#4a4a4a" stroke-width="0.7"/>
<text x="312.00" y="173.28" font-size="8" text-anchor="end" fill="#262626" stroke="#262626" stroke-width="0.2" font-family="'DejaVu Sans','Liberation Sans',sans-serif">0.15</text>
<line x1="314.20" y1="136.20" x2="316.80" y2="136.20" stroke="#4a4a4a" stroke-width="0.7"/>
<text x="312.00" y="139.08" font-size="8" text-anchor="end" fill="#262626" stroke="#262626" stroke-width="0.2" font-family="'DejaVu Sans','Liberation Sans',sans-serif">0.20</text>
<line x1="314.20" y1="102.00" x2="316.80" y2="102.00" stroke="#4a4a4a" stroke-width="0.7"/>
<text x="312.00" y="104.88" font-size="8" text-anchor="end" fill="#262626" stroke="#262626" stroke-width="0.2" font-family="'DejaVu Sans','Liberation Sans',sans-serif">0.25</text>
<line x1="314.20" y1="67.80" x2="316.80" y2="67.80" stroke="#4a4a4a" stroke-width="0.7"/>
<text x="312.00" y="70.68" font-size="8" text-anchor="end" fill="#262626" stroke="#262626" stroke-width="0.2" font-family="'DejaVu Sans','Liberation Sans',sans-serif">0.30</text>
<line x1="314.20" y1="33.60" x2="316.80" y2="33.60" stroke="#4a4a4a" stroke-width="0.7"/>
<text x="312.00" y="36.48" font-size="8" text-anchor="end" fill="#262626" stroke="#262626" stroke-width="0.2" font-family="'DejaVu Sans','Liberation Sans',sans-serif">0.35</text>
<text x="427.50" y="12.80" font-size="9.7" text-anchor="middle" fill="#262626" stroke="#262626" stroke-width="0.2" font-family="'DejaVu Sans','Liberation Sans',sans-serif">Model training</text>
<text x="428.20" y="199.60" font-size="8" text-anchor="middle" fill="#262626" stroke="#262626" stroke-width="0.2" font-family="'DejaVu Sans','Liberation Sans',sans-serif">epoch</text>
<text x="289.90" y="98.70" font-size="7.8" text-anchor="middle" fill="#262626" stroke="#262626" stroke-width="0.2" font-family="'DejaVu Sans','Liberation Sans',sans-serif" transform="rotate(-90 289.90 98.70)">Loss</text>
<rect x="466.30" y="20.50" width="69.90" height="26.90" rx="1.5" fill="#fff" fill-opacity="0.8" stroke="#d0d0d0" stroke-width="0.7"/>
<line x1="469.4" y1="26.9" x2="486.3" y2="26.9" stroke="#808080" stroke-width="1.0"/>
<text x="492.40" y="29.94" font-size="8" text-anchor="start" fill="#262626" stroke="#262626" stroke-width="0.2" font-family="'DejaVu Sans','Liberation Sans',sans-serif">training</text>
<line x1="469.4" y1="39.2" x2="486.3" y2="39.2" stroke="#0a0a0a" stroke-width="1.0"/>
<circle cx="477.85" cy="39.2" r="1.1" fill="#0a0a0a"/>
<text x="492.40" y="42.24" font-size="8" text-anchor="start" fill="#262626" stroke="#262626" stroke-width="0.2" font-family="'DejaVu Sans','Liberation Sans',sans-serif">validation</text>
<text x="421.75" y="215.20" font-size="15.6" textLength="17.50" lengthAdjust="spacingAndGlyphs" fill="#111" stroke="#111" stroke-width="0.3" font-family="'Liberation Sans',sans-serif">(b)</text>
<rect x="36.50" y="241.80" width="220.30" height="165.90" fill="#fff" stroke="#4a4a4a" stroke-width="1.0"/>
<g fill="none" stroke-linejoin="round">
<path d="M46.51,248.85 L57.05,350.93 L78.13,383.93 L99.21,389.30 L120.29,393.91 L141.37,397.75 L246.77,385.46" stroke="#727272" stroke-width="2.0"/>
<path d="M46.51,297.97 L57.05,397.75 L78.13,394.68 L99.21,385.46 L120.29,400.05 L141.37,400.05 L246.77,387.00" stroke="#0a0a0a" stroke-width="2.5" stroke-dasharray="16.5 4 2.8 4" stroke-dashoffset="2.9"/>
</g>
<line x1="78.13" y1="407.70" x2="78.13" y2="409.90" stroke="#4a4a4a" stroke-width="0.7"/>
<text x="78.13" y="416.60" font-size="5.95" text-anchor="middle" fill="#262626" stroke="#262626" stroke-width="0.13" font-family="'DejaVu Sans','Liberation Sans',sans-serif">20</text>
<line x1="120.29" y1="407.70" x2="120.29" y2="409.90" stroke="#4a4a4a" stroke-width="0.7"/>
<text x="120.29" y="416.60" font-size="5.95" text-anchor="middle" fill="#262626" stroke="#262626" stroke-width="0.13" font-family="'DejaVu Sans','Liberation Sans',sans-serif">40</text>
<line x1="162.45" y1="407.70" x2="162.45" y2="409.90" stroke="#4a4a4a" stroke-width="0.7"/>
<text x="162.45" y="416.60" font-size="5.95" text-anchor="middle" fill="#262626" stroke="#262626" stroke-width="0.13" font-family="'DejaVu Sans','Liberation Sans',sans-serif">60</text>
<line x1="204.61" y1="407.70" x2="204.61" y2="409.90" stroke="#4a4a4a" stroke-width="0.7"/>
<text x="204.61" y="416.60" font-size="5.95" text-anchor="middle" fill="#262626" stroke="#262626" stroke-width="0.13" font-family="'DejaVu Sans','Liberation Sans',sans-serif">80</text>
<line x1="246.77" y1="407.70" x2="246.77" y2="409.90" stroke="#4a4a4a" stroke-width="0.7"/>
<text x="246.77" y="416.60" font-size="5.95" text-anchor="middle" fill="#262626" stroke="#262626" stroke-width="0.13" font-family="'DejaVu Sans','Liberation Sans',sans-serif">100</text>
<line x1="34.30" y1="387.00" x2="36.50" y2="387.00" stroke="#4a4a4a" stroke-width="0.7"/>
<text x="32.20" y="389.14" font-size="5.95" text-anchor="end" fill="#262626" stroke="#262626" stroke-width="0.13" font-family="'DejaVu Sans','Liberation Sans',sans-serif">0.18</text>
<line x1="34.30" y1="356.30" x2="36.50" y2="356.30" stroke="#4a4a4a" stroke-width="0.7"/>
<text x="32.20" y="358.44" font-size="5.95" text-anchor="end" fill="#262626" stroke="#262626" stroke-width="0.13" font-family="'DejaVu Sans','Liberation Sans',sans-serif">0.20</text>
<line x1="34.30" y1="325.60" x2="36.50" y2="325.60" stroke="#4a4a4a" stroke-width="0.7"/>
<text x="32.20" y="327.74" font-size="5.95" text-anchor="end" fill="#262626" stroke="#262626" stroke-width="0.13" font-family="'DejaVu Sans','Liberation Sans',sans-serif">0.22</text>
<line x1="34.30" y1="294.90" x2="36.50" y2="294.90" stroke="#4a4a4a" stroke-width="0.7"/>
<text x="32.20" y="297.04" font-size="5.95" text-anchor="end" fill="#262626" stroke="#262626" stroke-width="0.13" font-family="'DejaVu Sans','Liberation Sans',sans-serif">0.24</text>
<line x1="34.30" y1="264.20" x2="36.50" y2="264.20" stroke="#4a4a4a" stroke-width="0.7"/>
<text x="32.20" y="266.34" font-size="5.95" text-anchor="end" fill="#262626" stroke="#262626" stroke-width="0.13" font-family="'DejaVu Sans','Liberation Sans',sans-serif">0.26</text>
<text x="146.70" y="426.00" font-size="6.15" text-anchor="middle" fill="#262626" stroke="#262626" stroke-width="0.13" font-family="'DejaVu Sans','Liberation Sans',sans-serif">Number of neurons per layer</text>
<text x="15.10" y="326.00" font-size="5.95" text-anchor="middle" fill="#262626" stroke="#262626" stroke-width="0.13" font-family="'DejaVu Sans','Liberation Sans',sans-serif" transform="rotate(-90 15.10 326.00)">Loss</text>
<rect x="199.90" y="245.30" width="54.00" height="20.30" rx="1.5" fill="#fff" fill-opacity="0.8" stroke="#d0d0d0" stroke-width="0.7"/>
<line x1="203.0" y1="250.3" x2="215.7" y2="250.3" stroke="#727272" stroke-width="1.9"/>
<text x="221.00" y="252.66" font-size="6.2" text-anchor="start" fill="#262626" stroke="#262626" stroke-width="0.13" font-family="'DejaVu Sans','Liberation Sans',sans-serif">training</text>
<line x1="203.0" y1="259.8" x2="215.7" y2="259.8" stroke="#0a0a0a" stroke-width="2.4"/>
<text x="221.00" y="262.16" font-size="6.2" text-anchor="start" fill="#262626" stroke="#262626" stroke-width="0.13" font-family="'DejaVu Sans','Liberation Sans',sans-serif">validation</text>
<text x="137.40" y="441.80" font-size="15.6" textLength="16.00" lengthAdjust="spacingAndGlyphs" fill="#111" stroke="#111" stroke-width="0.3" font-family="'Liberation Sans',sans-serif">(c)</text>
<rect x="318.50" y="242.30" width="223.00" height="165.20" fill="#fff" stroke="#4a4a4a" stroke-width="1.0"/>
<g fill="none" stroke-linejoin="round">
<path d="M328.20,375.99 L330.25,373.61 L332.31,370.97 L334.36,370.97 L336.41,374.14 L338.46,377.57 L340.52,378.63 L342.57,371.50 L344.62,363.58 L346.68,376.78 L348.73,371.76 L350.78,382.85 L352.84,363.58 L354.89,343.25 L356.94,351.70 L359.00,365.96 L361.05,375.46 L363.10,375.99 L365.15,361.73 L367.21,321.87 L369.26,370.18 L371.31,372.56 L373.37,379.42 L375.42,385.76 L377.47,375.46 L379.52,369.39 L381.58,375.46 L383.63,379.42 L385.68,386.02 L387.74,391.30 L389.79,379.42 L391.84,375.72 L393.90,386.02 L395.95,392.09 L398.00,380.74 L400.06,382.06 L402.11,380.21 L404.16,383.38 L406.21,388.66 L408.27,394.47 L410.32,248.48 L412.37,395.26 L414.43,380.21 L416.48,373.61 L418.53,378.63 L420.58,367.54 L422.64,376.78 L424.69,380.21 L426.74,379.42 L428.80,383.38 L430.85,380.21 L432.90,376.78 L434.96,371.76 L437.01,378.63 L439.06,371.76 L441.12,373.61 L443.17,354.34 L445.22,378.63 L447.27,360.15 L449.33,355.13 L451.38,375.46 L453.43,368.86 L455.49,356.98 L457.54,352.49 L459.59,370.18 L461.64,385.23 L463.70,395.26 L465.75,385.23 L467.80,380.21 L469.86,365.96 L471.91,370.18 L473.96,362.52 L476.02,371.50 L478.07,390.24 L480.12,378.36 L482.17,377.57 L484.23,375.20 L486.28,360.94 L488.33,360.15 L490.39,366.75 L492.44,370.18 L494.49,355.13 L496.55,353.28 L498.60,254.02 L500.65,372.82 L502.70,385.23 L504.76,383.38 L506.81,380.21 L508.86,378.36 L510.92,396.84 L512.97,381.80 L515.02,371.76 L517.08,378.36 L519.13,381.80 L521.18,356.72 L523.24,380.21 L525.29,385.23 L527.34,271.18 L529.39,386.81 L531.45,373.35" stroke="#727272" stroke-width="2.0"/>
<path d="M328.20,375.99 L330.25,385.23 L332.31,372.82 L334.36,374.40 L336.41,375.99 L338.46,375.99 L340.52,383.38 L342.57,375.46 L344.62,370.97 L346.68,378.63 L348.73,375.46 L350.78,383.38 L352.84,376.78 L354.89,369.39 L356.94,368.33 L359.00,373.61 L361.05,381.00 L363.10,378.63 L365.15,371.76 L367.21,336.65 L369.26,378.63 L371.31,383.38 L373.37,362.52 L375.42,380.21 L377.47,378.63 L379.52,386.02 L381.58,381.80 L383.63,385.23 L385.68,380.21 L387.74,378.63 L389.79,376.78 L391.84,380.21 L393.90,378.63 L395.95,380.21 L398.00,381.00 L400.06,385.23 L402.11,381.00 L404.16,381.80 L406.21,382.59 L408.27,376.78 L410.32,250.06 L412.37,386.81 L414.43,381.80 L416.48,382.59 L418.53,386.02 L420.58,378.63 L422.64,380.21 L424.69,388.66 L426.74,380.21 L428.80,381.80 L430.85,383.38 L432.90,384.70 L434.96,373.61 L437.01,383.38 L439.06,371.76 L441.12,378.63 L443.17,356.72 L445.22,366.75 L447.27,355.13 L449.33,364.90 L451.38,371.76 L453.43,382.06 L455.49,363.58 L457.54,366.75 L459.59,375.46 L461.64,380.21 L463.70,385.23 L465.75,383.38 L467.80,393.68 L469.86,390.24 L471.91,370.18 L473.96,360.94 L476.02,364.90 L478.07,378.36 L480.12,380.21 L482.17,376.78 L484.23,371.76 L486.28,361.73 L488.33,364.90 L490.39,371.76 L492.44,375.20 L494.49,363.32 L496.55,353.28 L498.60,256.66 L500.65,371.76 L502.70,391.30 L504.76,384.70 L506.81,378.36 L508.86,380.21 L510.92,398.43 L512.97,383.38 L515.02,373.35 L517.08,380.21 L519.13,383.38 L521.18,370.18 L523.24,385.23 L525.29,380.21 L527.34,271.18 L529.39,380.21 L531.45,371.76" stroke="#0a0a0a" stroke-width="2.5" stroke-dasharray="16.5 4 2.8 4" stroke-dashoffset="2.9"/>
</g>
<line x1="328.20" y1="407.50" x2="328.20" y2="409.70" stroke="#4a4a4a" stroke-width="0.7"/>
<text x="328.20" y="416.40" font-size="5.95" text-anchor="middle" fill="#262626" stroke="#262626" stroke-width="0.13" font-family="'DejaVu Sans','Liberation Sans',sans-serif">0</text>
<line x1="369.26" y1="407.50" x2="369.26" y2="409.70" stroke="#4a4a4a" stroke-width="0.7"/>
<text x="369.26" y="416.40" font-size="5.95" text-anchor="middle" fill="#262626" stroke="#262626" stroke-width="0.13" font-family="'DejaVu Sans','Liberation Sans',sans-serif">20</text>
<line x1="410.32" y1="407.50" x2="410.32" y2="409.70" stroke="#4a4a4a" stroke-width="0.7"/>
<text x="410.32" y="416.40" font-size="5.95" text-anchor="middle" fill="#262626" stroke="#262626" stroke-width="0.13" font-family="'DejaVu Sans','Liberation Sans',sans-serif">40</text>
<line x1="451.38" y1="407.50" x2="451.38" y2="409.70" stroke="#4a4a4a" stroke-width="0.7"/>
<text x="451.38" y="416.40" font-size="5.95" text-anchor="middle" fill="#262626" stroke="#262626" stroke-width="0.13" font-family="'DejaVu Sans','Liberation Sans',sans-serif">60</text>
<line x1="492.44" y1="407.50" x2="492.44" y2="409.70" stroke="#4a4a4a" stroke-width="0.7"/>
<text x="492.44" y="416.40" font-size="5.95" text-anchor="middle" fill="#262626" stroke="#262626" stroke-width="0.13" font-family="'DejaVu Sans','Liberation Sans',sans-serif">80</text>
<line x1="533.50" y1="407.50" x2="533.50" y2="409.70" stroke="#4a4a4a" stroke-width="0.7"/>
<text x="533.50" y="416.40" font-size="5.95" text-anchor="middle" fill="#262626" stroke="#262626" stroke-width="0.13" font-family="'DejaVu Sans','Liberation Sans',sans-serif">100</text>
<line x1="316.30" y1="391.30" x2="318.50" y2="391.30" stroke="#4a4a4a" stroke-width="0.7"/>
<text x="314.20" y="393.44" font-size="5.95" text-anchor="end" fill="#262626" stroke="#262626" stroke-width="0.13" font-family="'DejaVu Sans','Liberation Sans',sans-serif">0.15</text>
<line x1="316.30" y1="364.90" x2="318.50" y2="364.90" stroke="#4a4a4a" stroke-width="0.7"/>
<text x="314.20" y="367.04" font-size="5.95" text-anchor="end" fill="#262626" stroke="#262626" stroke-width="0.13" font-family="'DejaVu Sans','Liberation Sans',sans-serif">0.16</text>
<line x1="316.30" y1="338.50" x2="318.50" y2="338.50" stroke="#4a4a4a" stroke-width="0.7"/>
<text x="314.20" y="340.64" font-size="5.95" text-anchor="end" fill="#262626" stroke="#262626" stroke-width="0.13" font-family="'DejaVu Sans','Liberation Sans',sans-serif">0.17</text>
<line x1="316.30" y1="312.10" x2="318.50" y2="312.10" stroke="#4a4a4a" stroke-width="0.7"/>
<text x="314.20" y="314.24" font-size="5.95" text-anchor="end" fill="#262626" stroke="#262626" stroke-width="0.13" font-family="'DejaVu Sans','Liberation Sans',sans-serif">0.18</text>
<line x1="316.30" y1="285.70" x2="318.50" y2="285.70" stroke="#4a4a4a" stroke-width="0.7"/>
<text x="314.20" y="287.84" font-size="5.95" text-anchor="end" fill="#262626" stroke="#262626" stroke-width="0.13" font-family="'DejaVu Sans','Liberation Sans',sans-serif">0.19</text>
<line x1="316.30" y1="259.30" x2="318.50" y2="259.30" stroke="#4a4a4a" stroke-width="0.7"/>
<text x="314.20" y="261.44" font-size="5.95" text-anchor="end" fill="#262626" stroke="#262626" stroke-width="0.13" font-family="'DejaVu Sans','Liberation Sans',sans-serif">0.20</text>
<text x="429.40" y="425.50" font-size="6.15" text-anchor="middle" fill="#262626" stroke="#262626" stroke-width="0.13" font-family="'DejaVu Sans','Liberation Sans',sans-serif">Neural network instance</text>
<text x="296.20" y="325.80" font-size="5.95" text-anchor="middle" fill="#262626" stroke="#262626" stroke-width="0.13" font-family="'DejaVu Sans','Liberation Sans',sans-serif" transform="rotate(-90 296.20 325.80)">Loss</text>
<rect x="484.10" y="245.50" width="54.00" height="20.80" rx="1.5" fill="#fff" fill-opacity="0.8" stroke="#d0d0d0" stroke-width="0.7"/>
<line x1="486.3" y1="250.4" x2="500.8" y2="250.4" stroke="#727272" stroke-width="1.9"/>
<text x="504.90" y="252.72" font-size="6.1" text-anchor="start" fill="#262626" stroke="#262626" stroke-width="0.13" font-family="'DejaVu Sans','Liberation Sans',sans-serif">training</text>
<line x1="486.3" y1="260.1" x2="500.8" y2="260.1" stroke="#0a0a0a" stroke-width="2.4"/>
<text x="504.90" y="262.42" font-size="6.1" text-anchor="start" fill="#262626" stroke="#262626" stroke-width="0.13" font-family="'DejaVu Sans','Liberation Sans',sans-serif">validation</text>
<text x="422.00" y="441.60" font-size="15.6" textLength="17.40" lengthAdjust="spacingAndGlyphs" fill="#111" stroke="#111" stroke-width="0.3" font-family="'Liberation Sans',sans-serif">(d)</text>
</svg>
</body></html>
